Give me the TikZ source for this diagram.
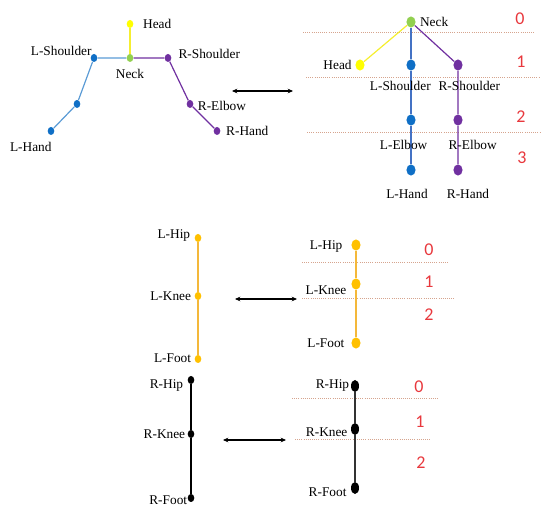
\documentclass[tikz,border=0pt]{standalone}
\usepackage{fontspec}
\setmainfont{Liberation Serif}
\newfontfamily\numfont{Carlito}
\usetikzlibrary{positioning}
\usetikzlibrary{arrows.meta}
\usetikzlibrary{shapes.geometric}
\definecolor{jblue}{HTML}{0F6FC6}
\definecolor{lblue}{HTML}{5B9BD5}
\definecolor{dblue}{HTML}{4472C4}
\definecolor{jpurple}{HTML}{7030A0}
\definecolor{jgreen}{HTML}{92D050}
\definecolor{jyellow}{HTML}{FFFF00}
\definecolor{lyellow}{HTML}{F5EE30}
\definecolor{jorange}{HTML}{FFC000}
\definecolor{lorange}{HTML}{F4B83A}
\definecolor{lvlred}{HTML}{E8383D}
\definecolor{lvlline}{HTML}{D6A48E}

\begin{document}
\begin{tikzpicture}[x=0.75pt, y=-0.75pt, font=\fontsize{10}{12}\selectfont,
    dot/.style = {ellipse, fill, inner sep=0pt, minimum width=5pt, minimum height=6pt},
    big/.style = {ellipse, fill, inner sep=0pt, minimum width=6.8pt, minimum height=8.3pt},
    tag/.style = {inner sep=1pt},
    bone/.style = {line width=0.9pt},
    lvl/.style = {lvlline, densely dotted, line width=0.6pt},
    num/.style = {lvlred, inner sep=0pt, font=\numfont\fontsize{13.5}{14}\selectfont},
    swap/.style = {{Stealth[length=4pt,width=3.5pt]}-{Stealth[length=4pt,width=3.5pt]}, line width=0.8pt}]
    \useasboundingbox (0,0) rectangle (550,516);

    % upper body, skeleton
    \node[dot, jgreen] (neck) at (130,58) {};
    \node[dot, jyellow] (head) at (130,24) {};
    \node[dot, jblue] (lsh) at (94,58) {};
    \node[dot, jblue] (lelb) at (77,104) {};
    \node[dot, jblue] (lhand) at (51,131) {};
    \node[dot, jpurple] (rsh) at (168,58) {};
    \node[dot, jpurple] (relb) at (190,104) {};
    \node[dot, jpurple] (rhand) at (217,131) {};
    \node[tag] (head-t) [right=6pt of head] {Head};
    \node[tag] (neck-t) [below=4pt of neck] {Neck};
    \node[tag] (lsh-t) [above left=-2pt and -1.3pt of lsh] {L-Shoulder};
    \node[tag] (lhand-t) [below left=5pt and -3.5pt of lhand] {L-Hand};
    \node[tag] (rsh-t) [right=4pt of rsh, yshift=3pt] {R-Shoulder};
    \node[tag] (relb-t) [right=2pt of relb, yshift=-1.5pt] {R-Elbow};
    \node[tag] (rhand-t) [right=3pt of rhand] {R-Hand};
    \draw[bone, lyellow] (neck) -- (head);
    \draw[bone, lblue] (neck) -- (lsh) -- (lelb) -- (lhand);
    \draw[bone, jpurple] (neck) -- (rsh) -- (relb) -- (rhand);

    \coordinate (up-a) at (232,91);
    \coordinate (up-b) at (293,91);
    \draw[swap] (up-a) -- (up-b);

    % upper body, tree
    \draw[lvl] (303,32) -- (535,32);
    \draw[lvl] (306,77) -- (540,77);
    \draw[lvl] (307,132) -- (540,132);
    \node[num] (n0) at (520,19) {0};
    \node[num] (n1) at (521,62) {1};
    \node[num] (n2) at (521,117) {2};
    \node[num] (n3) at (522,158) {3};
    \node[big, jgreen] (neck2) at (411,22) {};
    \node[big, jyellow] (head2) at (360,65) {};
    \node[big, jblue] (lsh2) at (411,65) {};
    \node[big, jpurple] (rsh2) at (458,65) {};
    \node[big, jblue] (lelb2) at (411,120) {};
    \node[big, jpurple] (relb2) at (458,120) {};
    \node[big, jblue] (lhand2) at (411,170) {};
    \node[big, jpurple] (rhand2) at (458,170) {};
    \draw[bone, lyellow] (neck2) -- (head2);
    \draw[bone, dblue] (neck2) -- (lsh2) -- (lelb2) -- (lhand2);
    \draw[bone, jpurple] (neck2) -- (rsh2) -- (relb2) -- (rhand2);
    \node[tag] (neck2-t) [right=2pt of neck2] {Neck};
    \node[tag] (head2-t) [left=1.5pt of head2] {Head};
    \node[tag] (lsh2-t) [below=7pt of lsh2, xshift=-8pt] {L-Shoulder};
    \node[tag] (rsh2-t) [below=7pt of rsh2, xshift=8.5pt] {R-Shoulder};
    \node[tag] (lelb2-t) [below=10pt of lelb2, xshift=-5.5pt] {L-Elbow};
    \node[tag] (relb2-t) [below=10pt of relb2, xshift=11pt] {R-Elbow};
    \node[tag] (lhand2-t) [below=9pt of lhand2, xshift=-3pt] {L-Hand};
    \node[tag] (rhand2-t) [below=9pt of rhand2, xshift=7.5pt] {R-Hand};

    % left leg
    \node[dot, jorange] (lhip) at (198,238) {};
    \node[dot, jorange] (lknee) at (198,296) {};
    \node[dot, jorange] (lfoot) at (198,359) {};
    \draw[bone, lorange] (lhip) -- (lknee) -- (lfoot);
    \node[tag] (lhip-t) [left=2pt of lhip, yshift=1.5pt] {L-Hip};
    \node[tag] (lknee-t) [left=1.3pt of lknee] {L-Knee};
    \node[tag] (lfoot-t) [left=1.3pt of lfoot, yshift=0.5pt] {L-Foot};

    \coordinate (ll-a) at (235,299);
    \coordinate (ll-b) at (297,299);
    \draw[swap] (ll-a) -- (ll-b);

    \draw[lvl] (302,262) -- (448,262);
    \draw[lvl] (302,298) -- (455,298);
    \node[num] (m0) at (429,250) {0};
    \node[num] (m1) at (429,282) {1};
    \node[num] (m2) at (429,315) {2};
    \node[big, jorange] (lhip2) at (356,245) {};
    \node[big, jorange] (lknee2) at (356,284) {};
    \node[big, jorange] (lfoot2) at (356,343) {};
    \draw[bone, lorange] (lhip2) -- (lknee2) -- (lfoot2);
    \node[tag] (lhip2-t) [left=5.4pt of lhip2, yshift=-1.5pt] {L-Hip};
    \node[tag] (lknee2-t) [left=2.4pt of lknee2, yshift=-4.5pt] {L-Knee};
    \node[tag] (lfoot2-t) [left=3.9pt of lfoot2] {L-Foot};

    % right leg
    \node[dot, black] (rhip) at (191,380) {};
    \node[dot, black] (rknee) at (191,434) {};
    \node[dot, black] (rfoot) at (191,498) {};
    \draw[line width=1.1pt] (rhip) -- (rknee) -- (rfoot);
    \node[tag] (rhip-t) [left=2pt of rhip, yshift=-4.5pt] {R-Hip};
    \node[tag] (rknee-t) [left=0.5pt of rknee] {R-Knee};
    \node[tag] (rfoot-t) [left=-1pt of rfoot, yshift=-1.5pt] {R-Foot};

    \coordinate (rl-a) at (223,440);
    \coordinate (rl-b) at (286,440);
    \draw[swap] (rl-a) -- (rl-b);

    \draw[lvl] (292,398) -- (438,398);
    \draw[lvl] (295,439) -- (430,439);
    \node[num] (k0) at (419,387) {0};
    \node[num] (k1) at (420,422) {1};
    \node[num] (k2) at (421,463) {2};
    \node[big, black, minimum width=6pt, minimum height=9pt] (rhip2) at (355,386) {};
    \node[big, black, minimum width=6pt, minimum height=9pt] (rknee2) at (355,429) {};
    \node[big, black, minimum width=6pt, minimum height=9pt] (rfoot2) at (355,488) {};
    \draw[line width=1.5pt, black!80] (rhip2) -- (rknee2) -- (rfoot2);
    \node[tag] (rhip2-t) [left=0pt of rhip2] {R-Hip};
    \node[tag] (rknee2-t) [left=1.3pt of rknee2, yshift=-2.3pt] {R-Knee};
    \node[tag] (rfoot2-t) [left=2pt of rfoot2, yshift=-3pt] {R-Foot};
\end{tikzpicture}
\end{document}
